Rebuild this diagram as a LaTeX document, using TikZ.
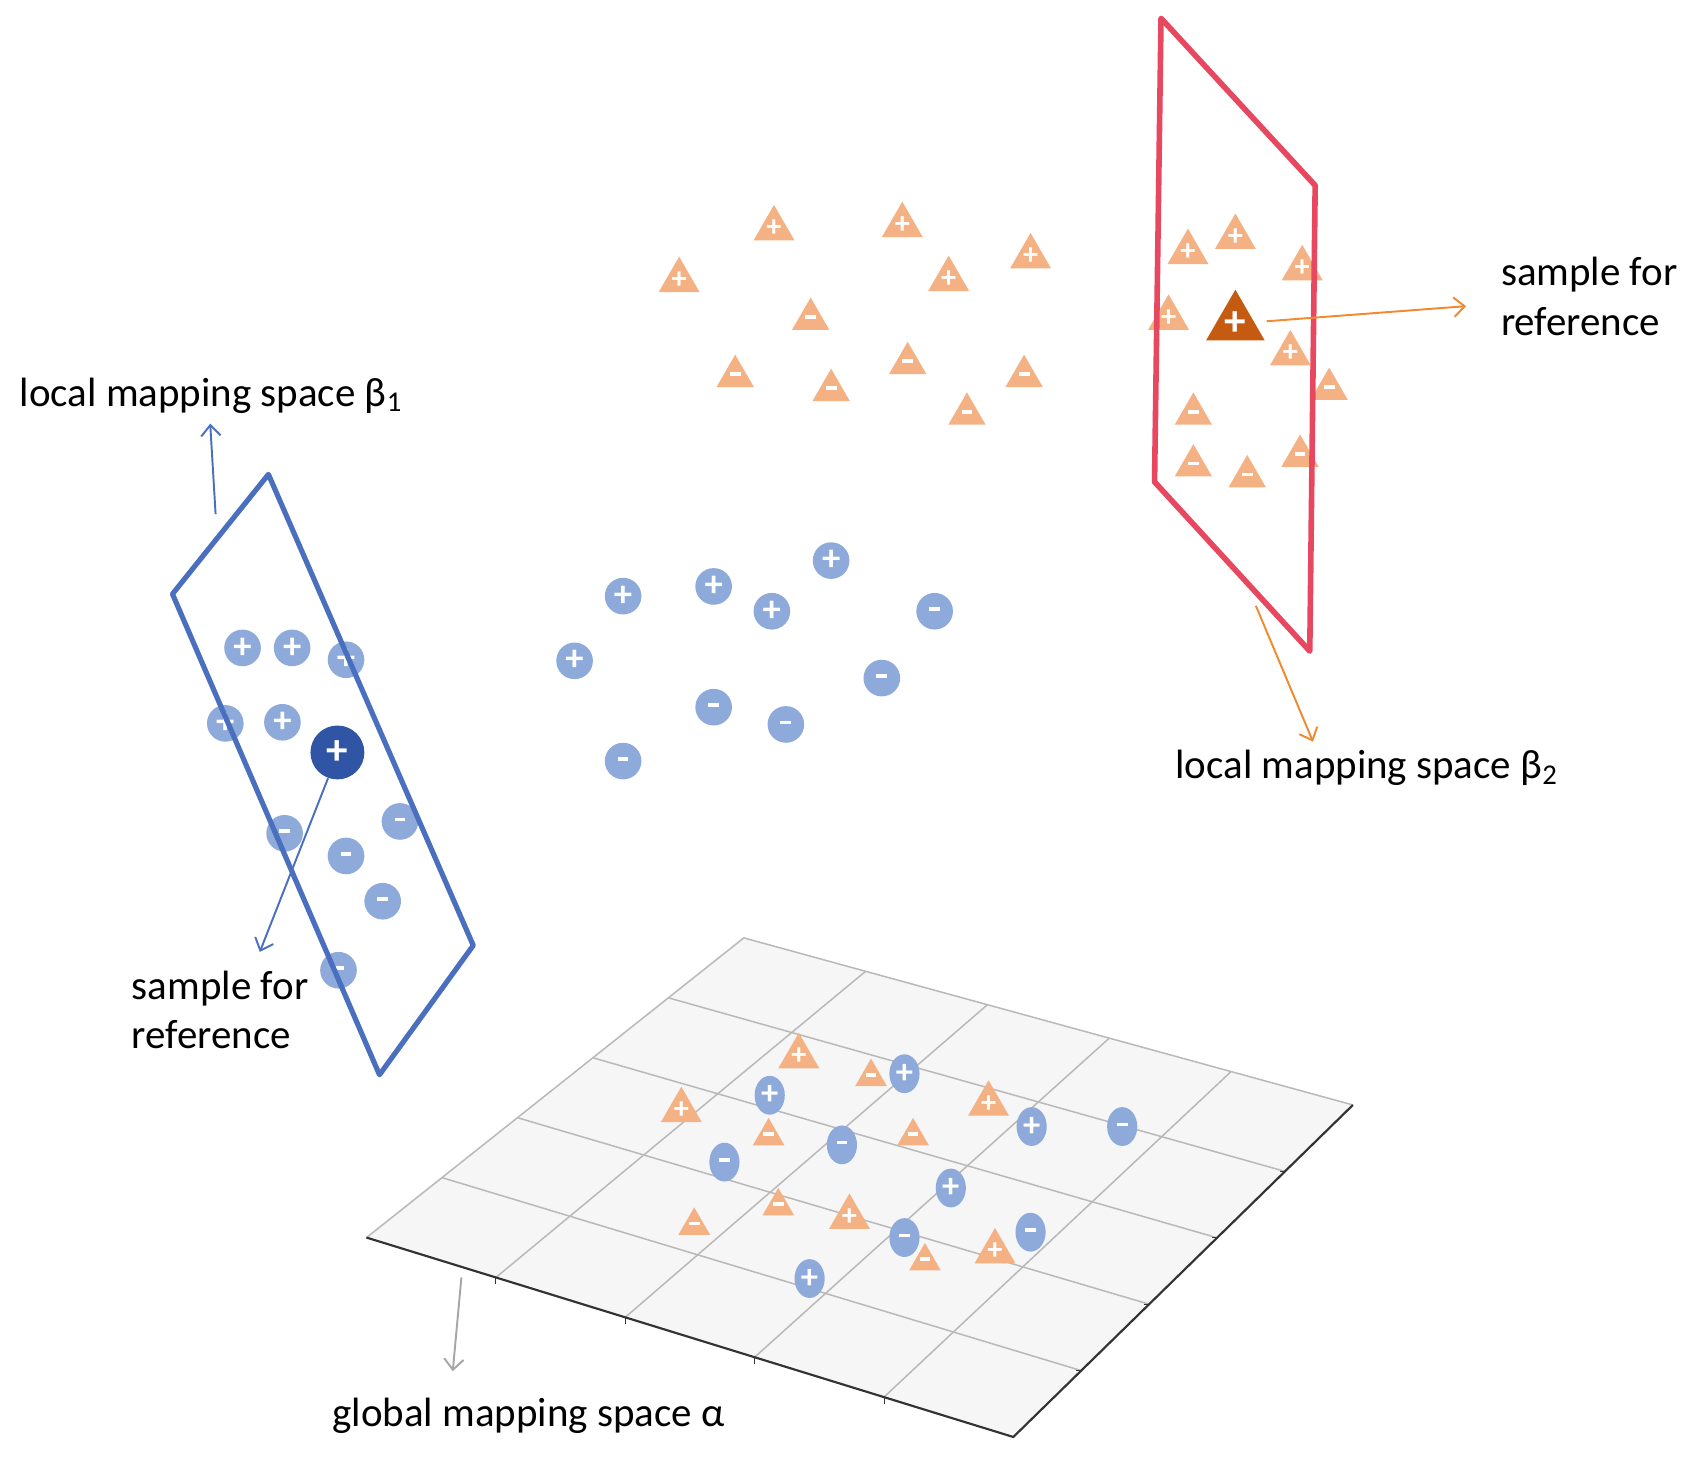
\documentclass[tikz,border=0pt]{standalone}
\usepackage{fontspec}
\setmainfont{Carlito}
\usetikzlibrary{shapes.geometric,arrows.meta,calc}
\definecolor{bl}{HTML}{8EAADB}
\definecolor{dbl}{HTML}{2F55A4}
\definecolor{pbl}{HTML}{4A6FBF}
\definecolor{ora}{HTML}{F4B183}
\definecolor{dora}{HTML}{C55A11}
\definecolor{red1}{HTML}{E8485F}
\definecolor{arr}{HTML}{F08A30}
\newcommand\pl{\textbf{+}}
\newcommand\mi{\rule[2pt]{5pt}{1.6pt}}
\tikzset{
 bc/.style={circle,fill=bl,text=white,minimum size=17pt,inner sep=0pt,font=\fontsize{17}{17}\selectfont},
 be/.style={ellipse,fill=bl,text=white,minimum width=14pt,minimum height=18pt,inner sep=0pt,font=\fontsize{16}{16}\selectfont},
 tr/.style={regular polygon,regular polygon sides=3,fill=ora,text=white,minimum size=20pt,inner sep=0pt,yshift=-2pt,font=\fontsize{14}{14}\selectfont},
 lab/.style={font=\fontsize{19}{23}\selectfont,align=left,inner sep=0pt},
 ar/.style={-{Straight Barb[length=5pt,width=9pt]},line width=0.9pt},
}
\begin{document}
\begin{tikzpicture}[x=0.5pt,y=-0.5pt]
\useasboundingbox (0,0) rectangle (1564,1357);
% grid plane
\coordinate (L) at (340,1148); \coordinate (B) at (940,1333);
\coordinate (R) at (1255,1025); \coordinate (T) at (690,870);
\fill[gray!7] (L)--(B)--(R)--(T)--cycle;
\foreach \i in {0.2,0.4,0.6,0.8}{
 \draw[gray!55,line width=0.7pt] ($(L)!\i!(B)$)--($(T)!\i!(R)$);
 \draw[gray!55,line width=0.7pt] ($(L)!\i!(T)$)--($(B)!\i!(R)$);}
\draw[gray!55,line width=0.7pt] (L)--(T)--(R);
\draw[black!80,line width=1pt] (L)--(B)--(R);
\foreach \i in {0.2,0.4,0.6,0.8}{
 \draw[black!80] ($(L)!\i!(B)$)--++(0,6);
 \draw[black!80] ($(B)!\i!(R)$)--++(-5,0);}
% grid markers
\foreach \n/\p in {g1/{(741,976)},g2/{(632,1026)},g3/{(917,1020)},g4/{(788,1125)},g5/{(923,1157)}}
 \node[tr,minimum size=17pt] (\n) at \p {\pl};
\foreach \n/\p in {g6/{(808,995)},g7/{(713,1050)},g8/{(847,1050)},g9/{(722,1115)},g10/{(644,1133)},g11/{(858,1166)}}
 \node[tr,minimum size=17pt] (\n) at \p {\mi};
\foreach \n/\p in {h1/{(839,996)},h2/{(714,1016)},h3/{(957,1045)},h4/{(882,1102)},h5/{(751,1186)}}
 \node[be] (\n) at \p {\pl};
\foreach \n/\p in {h6/{(1041,1045)},h7/{(672,1078)},h8/{(781,1062)},h9/{(839,1148)},h10/{(956,1143)}}
 \node[be] (\n) at \p {\mi};
% top triangles
\foreach \n/\p in {t1/{(718,208)},t2/{(837,205)},t3/{(956,234)},t4/{(630,256)},t5/{(880,255)},
 t6/{(1102,230)},t7/{(1146,216)},t8/{(1208,245)},t9/{(1084,291)},t10/{(1197,324)}}
 \node[tr] (\n) at \p {\pl};
\foreach \n/\p in {u1/{(752,292)},u2/{(682,345)},u3/{(842,333)},u4/{(771,358)},u5/{(950,345)},u6/{(897,380)},
 u7/{(1233,357)},u8/{(1107,380)},u9/{(1107,428)},u10/{(1157,438)},u11/{(1206,419)}}
 \node[tr] (\n) at \p {\mi};
\node[tr,fill=dora,minimum size=28pt,font=\fontsize{20}{20}\selectfont] (ref2) at (1146,296) {\pl};
% red plane
\draw[red1,line width=2.6pt,line join=round] (1077,17)--(1220,172)--(1215,604)--(1071,447)--cycle;
% middle circles
\foreach \n/\p in {c1/{(578,553)},c2/{(662,544)},c3/{(716,567)},c4/{(771,520)},c5/{(533,613)},
 c6/{(225,601)},c7/{(271,601)},c8/{(321,612)},c9/{(262,670)},c10/{(209,671)}}
 \node[bc] (\n) at \p {\pl};
\foreach \n/\p in {d1/{(867,567)},d2/{(818,629)},d3/{(662,656)},d4/{(729,672)},d5/{(578,706)},
 d6/{(264,773)},d7/{(371,762)},d8/{(321,794)},d9/{(355,836)},d10/{(314,900)}}
 \node[bc] (\n) at \p {\mi};
\node[bc,fill=dbl,minimum size=25pt,font=\fontsize{20}{20}\selectfont] (ref1) at (313,698) {\pl};
% blue plane
\draw[pbl,line width=2.4pt,line join=round] (160,551)--(249,440)--(439,877)--(352,997)--cycle;
% labels and arrows
\node[lab,anchor=west] (l1) at (18,367) {local mapping space β\textsubscript{1}};
\node[lab,anchor=west] (l2) at (1090,712) {local mapping space β\textsubscript{2}};
\node[lab,anchor=west] (l3) at (308,1313) {global mapping space α};
\node[lab,anchor=north west] (s1) at (122,900) {sample for\\reference};
\node[lab,anchor=north west] (s2) at (1392,238) {sample for\\reference};
\coordinate (a1) at (200,477); \coordinate (a1e) at (195,393);
\draw[ar,pbl] (a1)--(a1e);
\coordinate (a2e) at (241,883);
\draw[ar,pbl] (ref1.-110)--(a2e);
\coordinate (a3) at (1175,298); \coordinate (a3e) at (1360,284);
\draw[ar,arr] (a3)--(a3e);
\coordinate (a4) at (1165,562); \coordinate (a4e) at (1218,688);
\draw[ar,arr] (a4)--(a4e);
\coordinate (a5) at (428,1185); \coordinate (a5e) at (420,1272);
\draw[ar,gray!70] (a5)--(a5e);
\end{tikzpicture}
\end{document}
